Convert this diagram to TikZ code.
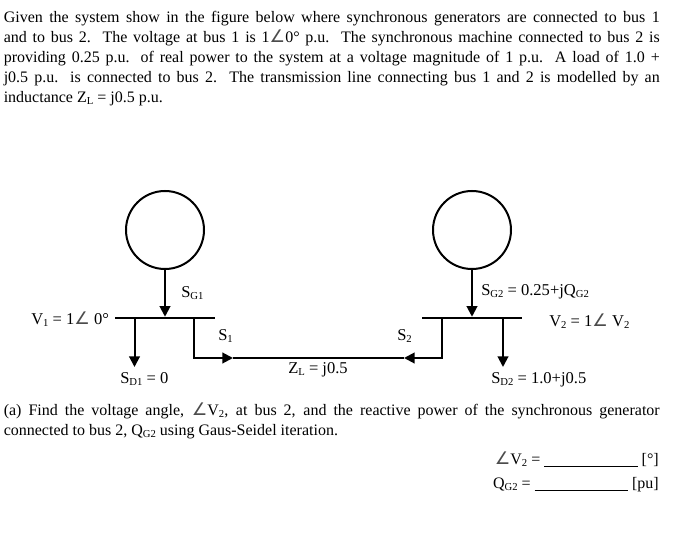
\documentclass[tikz,border=0pt]{standalone}
\usepackage{fontspec}
\setmainfont{Liberation Serif}
\newfontfamily\symfont{DejaVu Sans}
\usepackage{tikz}
\usetikzlibrary{arrows.meta,positioning}
\newcommand{\lowsub}[1]{\raisebox{-1.5pt}{\footnotesize #1}}
\newcommand{\ang}{\smash{\textcolor{black!70}{\symfont\fontsize{13pt}{13pt}\selectfont ∠}}}
\tikzset{
  para/.style={anchor=north west,inner sep=0pt,text width=492pt,align=justify},
  lab/.style={anchor=base west,inner sep=0pt,font=\fontsize{12.4pt}{15pt}\selectfont},
  gen/.style={circle,draw,line width=1.5pt,minimum size=58.5pt,inner sep=0pt},
  busbar/.style={fill=black,inner sep=0pt,minimum width=75.5pt,minimum height=1.5pt},
  conn/.style={line width=1.5pt},
  arr/.style={conn,-{Triangle[length=8pt,width=8pt]}}
}
\begin{document}
\begin{tikzpicture}[x=0.75pt,y=-0.75pt,font=\fontsize{12pt}{15pt}\selectfont]
\useasboundingbox (0,0) rectangle (686,535);
\node (intro) [para] at (3.5,11) {Given the system show in the figure below where synchronous generators are connected to bus 1\linebreak
and to bus 2.\ \ The voltage at bus 1 is 1\ang0° p.u.\ \ The synchronous machine connected to bus 2 is\linebreak
providing 0.25 p.u. of real power to the system at a voltage magnitude of 1 p.u.\ \ A load of 1.0 +\linebreak
j0.5 p.u. is connected to bus 2.\ \ The transmission line connecting bus 1 and 2 is modelled by an\linebreak
inductance Z\lowsub{L} = j0.5 p.u.};
% generators and buses
\node (gen1) [gen] at (165,230) {};
\node (gen2) [gen] at (472,230) {};
\node (bus1) [busbar] at (165,318) {};
\node (bus2) [busbar] at (472,318) {};
\coordinate (d1) at (134.5,318);
\coordinate (d1end) at (134.5,367);
\coordinate (l1) at (194,318);
\coordinate (s1tip) at (233,358);
\coordinate (s2tip) at (404,358);
\coordinate (l2) at (442,318);
\coordinate (d2) at (503,318);
\coordinate (d2end) at (503,367);
\draw[arr] (gen1) -- (bus1);
\draw[arr] (gen2) -- (bus2);
\draw[arr] (d1) -- (d1end);
\draw[arr] (d2) -- (d2end);
\draw[arr] (l1) |- (s1tip);
\draw[arr] (l2) |- (s2tip);
\draw[conn] (s1tip) -- (s2tip);
% labels
\node (sg1) [lab] at (181,297) {S\lowsub{G1}};
\node (v1) [lab] at (31,324) {V\lowsub{1} = 1\ang\ 0°};
\node (s1) [lab] at (218,340) {S\lowsub{1}};
\node (zl) [lab] at (288,373) {Z\lowsub{L} = j0.5};
\node (sd1) [lab] at (120,383) {S\lowsub{D1} = 0};
\node (sg2) [lab] at (481,295) {S\lowsub{G2} = 0.25+jQ\lowsub{G2}};
\node (v2) [lab] at (549,326) {V\lowsub{2} = 1\ang\ V\lowsub{2}};
\node (s2) [lab] at (397,340) {S\lowsub{2}};
\node (sd2) [lab] at (491,383) {S\lowsub{D2} = 1.0+j0.5};
% question
\node (quest) [para] at (3.5,404) {(a) Find the voltage angle, \ang V\lowsub{2}, at bus 2, and the reactive power of the synchronous generator\linebreak
connected to bus 2, Q\lowsub{G2} using Gaus-Seidel iteration.};
\node (ans1) [lab,anchor=base east,font=\fontsize{12pt}{15pt}\selectfont] at (659,464) {\ang V\lowsub{2} = \rule[-2pt]{70pt}{0.6pt} [°]};
\node (ans2) [lab,anchor=base east,font=\fontsize{12pt}{15pt}\selectfont] at (659,488) {Q\lowsub{G2} = \rule[-2pt]{70pt}{0.6pt} [pu]};
\end{tikzpicture}
\end{document}
